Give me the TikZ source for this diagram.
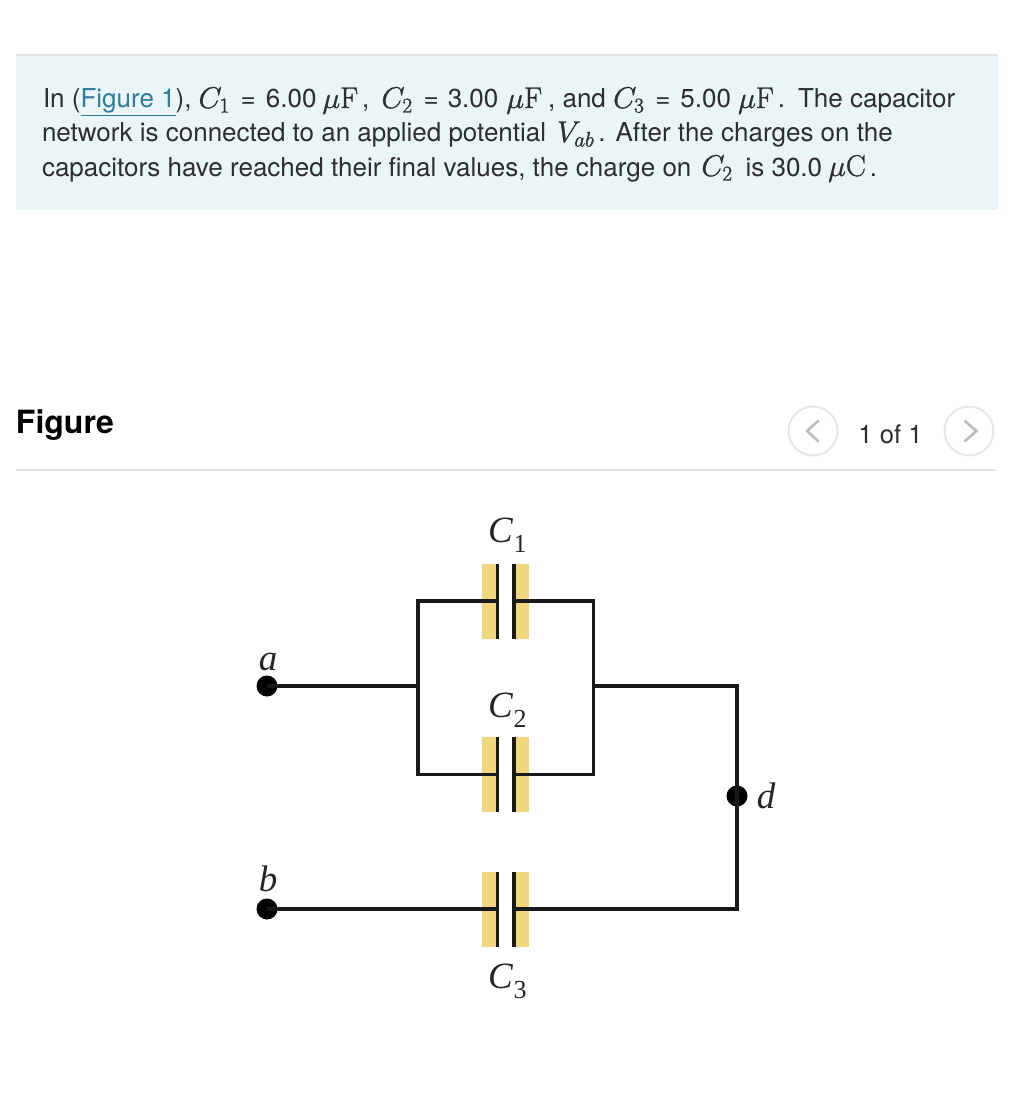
\documentclass[tikz,border=0pt]{standalone}
\usepackage{fix-cm}
\usepackage[no-math]{fontspec}
\setmainfont{TeX Gyre Heros}
\newfontfamily\serifit[Ligatures=TeX]{Liberation Serif}
\definecolor{panel}{HTML}{E9F5F7}
\definecolor{rulegrey}{HTML}{DFE3E4}
\definecolor{bodytext}{HTML}{2E2E2E}
\definecolor{linkblue}{HTML}{2F7C9E}
\definecolor{plateyellow}{HTML}{F0D67C}
\definecolor{chev}{HTML}{BDBDBD}
\definecolor{ringgrey}{HTML}{E6E6E6}
\newcommand{\mth}[1]{{\fontsize{30}{34}\selectfont\special{pdf:literal 2 Tr 0.35 w}$#1$\special{pdf:literal 0 Tr}}}
\newcommand{\gap}[1]{\hspace{#1pt}}
\tikzset{
  x=1pt,y=-1pt,
  every node/.style={inner sep=0pt,outer sep=0pt},
  para/.style={anchor=base west,text=bodytext,font=\fontsize{26}{34}\selectfont},
  wire/.style={draw=black!90,line width=3.05pt,line join=miter},
  heavywire/.style={draw=black!90,line width=3.6pt},
  plate/.style={fill=black!90,minimum width=3.6pt,minimum height=75pt},
  dielectric/.style={fill=plateyellow,minimum width=15pt,minimum height=75pt},
  terminal/.style={circle,fill=black,minimum size=21pt},
  clabel/.style={text=black!85,font=\serifit\fontsize{37}{37}\selectfont\itshape},
  ring/.style={circle,draw=ringgrey,line width=2pt,minimum size=49pt},
  chevron/.style={draw=chev,line width=2.6pt,line cap=round,line join=round},
}
\newcommand{\Sub}[1]{\kern1pt\raisebox{-10pt}{\fontsize{26}{26}\selectfont\upshape #1}}
\begin{document}
\begin{tikzpicture}
\useasboundingbox (0,0) rectangle (1016,1110);
\fill[white] (0,0) rectangle (1016,1110);
% question panel
\node[fill=panel,minimum width=982pt,minimum height=155pt,anchor=north west] (panel) at (16,55) {};
\draw[rulegrey,line width=2pt] (panel.north west) -- (panel.north east);
\node[para] (line1) at (43,108) {In (\textcolor{linkblue}{\underline{Figure 1}}),\gap{7}\mth{C_1}\gap{11}=\gap{10}6.00\gap{6}\mth{\mu\mathrm{F}}\gap{4},\gap{12}\mth{C_2}\gap{11}=\gap{9}3.00\gap{8}\mth{\mu\mathrm{F}}\gap{6}, and \mth{C_3}\gap{11}=\gap{10}5.00\gap{7}\mth{\mu\mathrm{F}}\gap{4}.\gap{13}The capacitor};
\node[para] (line2) at (42,142) {network is connected to an applied potential\gap{11}\mth{V_{ab}}\gap{4}.\gap{10}After the charges on the};
\node[para] (line3) at (42,176) {capacitors have reached their final values, the charge on\gap{10}\mth{C_2}\gap{13}is 30.0\gap{6}\mth{\mu\mathrm{C}}\gap{4}.};
% figure header
\node[anchor=base west,font=\bfseries\fontsize{32}{32}\selectfont,text=black] (figtitle) at (16,433) {Figure};
\node[ring] (prev) at (813,431) {};
\node[ring] (next) at (969,431) {};
\node[text=bodytext,font=\fontsize{25.6}{25.6}\selectfont,anchor=base] (pager) at (890.5,443) {1 of 1};
\draw[chevron] (818,421) -- (807,431) -- (818,441);
\draw[chevron] (965,421) -- (976.5,431) -- (965,441);
\coordinate (ruleL) at (16,470);
\coordinate (ruleR) at (996,470);
\draw[rulegrey,line width=2pt] (ruleL) -- (ruleR);
% capacitors: yellow dielectric bands
\foreach \n/\y in {one/601,two/774.5,three/909}{
  \node[dielectric] (\n YL) at (489.5,\y) {};
  \node[dielectric] (\n YR) at (521,\y) {};
  \node[plate] (\n L) at (497.5,\y) {};
  \node[plate] (\n R) at (514,\y) {};
}
% terminals
\node[terminal] (a) at (267,686) {};
\node[terminal] (b) at (267,909) {};
\node[terminal] (d) at (737,796) {};
% junction coordinates
\coordinate (ja) at (418,686);
\coordinate (jr) at (593.5,686);
\coordinate (tl) at (418,601);
\coordinate (tr) at (593.5,601);
\coordinate (bl) at (418,774.5);
\coordinate (br) at (593.5,774.5);
\coordinate (rt) at (737,686);
\coordinate (rb) at (737,909);
\coordinate (stubL) at (468,774.5);
\coordinate (stubR) at (543,774.5);
% wires
\draw[wire] (oneL.center) -- (tl) -- (bl) -- (twoL.center);
\draw[wire] (oneR.center) -- (tr) -- (br) -- (twoR.center);
\draw[heavywire] (stubL) -- (twoL.center);
\draw[heavywire] (stubR) -- (twoR.center);
\draw[wire] (a.center) -- (ja);
\draw[wire] (jr) -- (rt) -- (d.center);
\draw[wire] (d.center) -- (rb) -- (threeR.center);
\draw[wire] (b.center) -- (threeL.center);
% labels
\node[clabel,anchor=base west] (lc1) at (488,542) {C\Sub{1}};
\node[clabel,anchor=base west] (lc2) at (488,717) {C\Sub{2}};
\node[clabel,anchor=base west] (lc3) at (488,988) {C\Sub{3}};
\node[clabel,anchor=base] (la) at (268,670) {a};
\node[clabel,anchor=base] (lb) at (268,891) {b};
\node[clabel,anchor=base] (ld) at (766,808) {d};
\end{tikzpicture}
\end{document}
